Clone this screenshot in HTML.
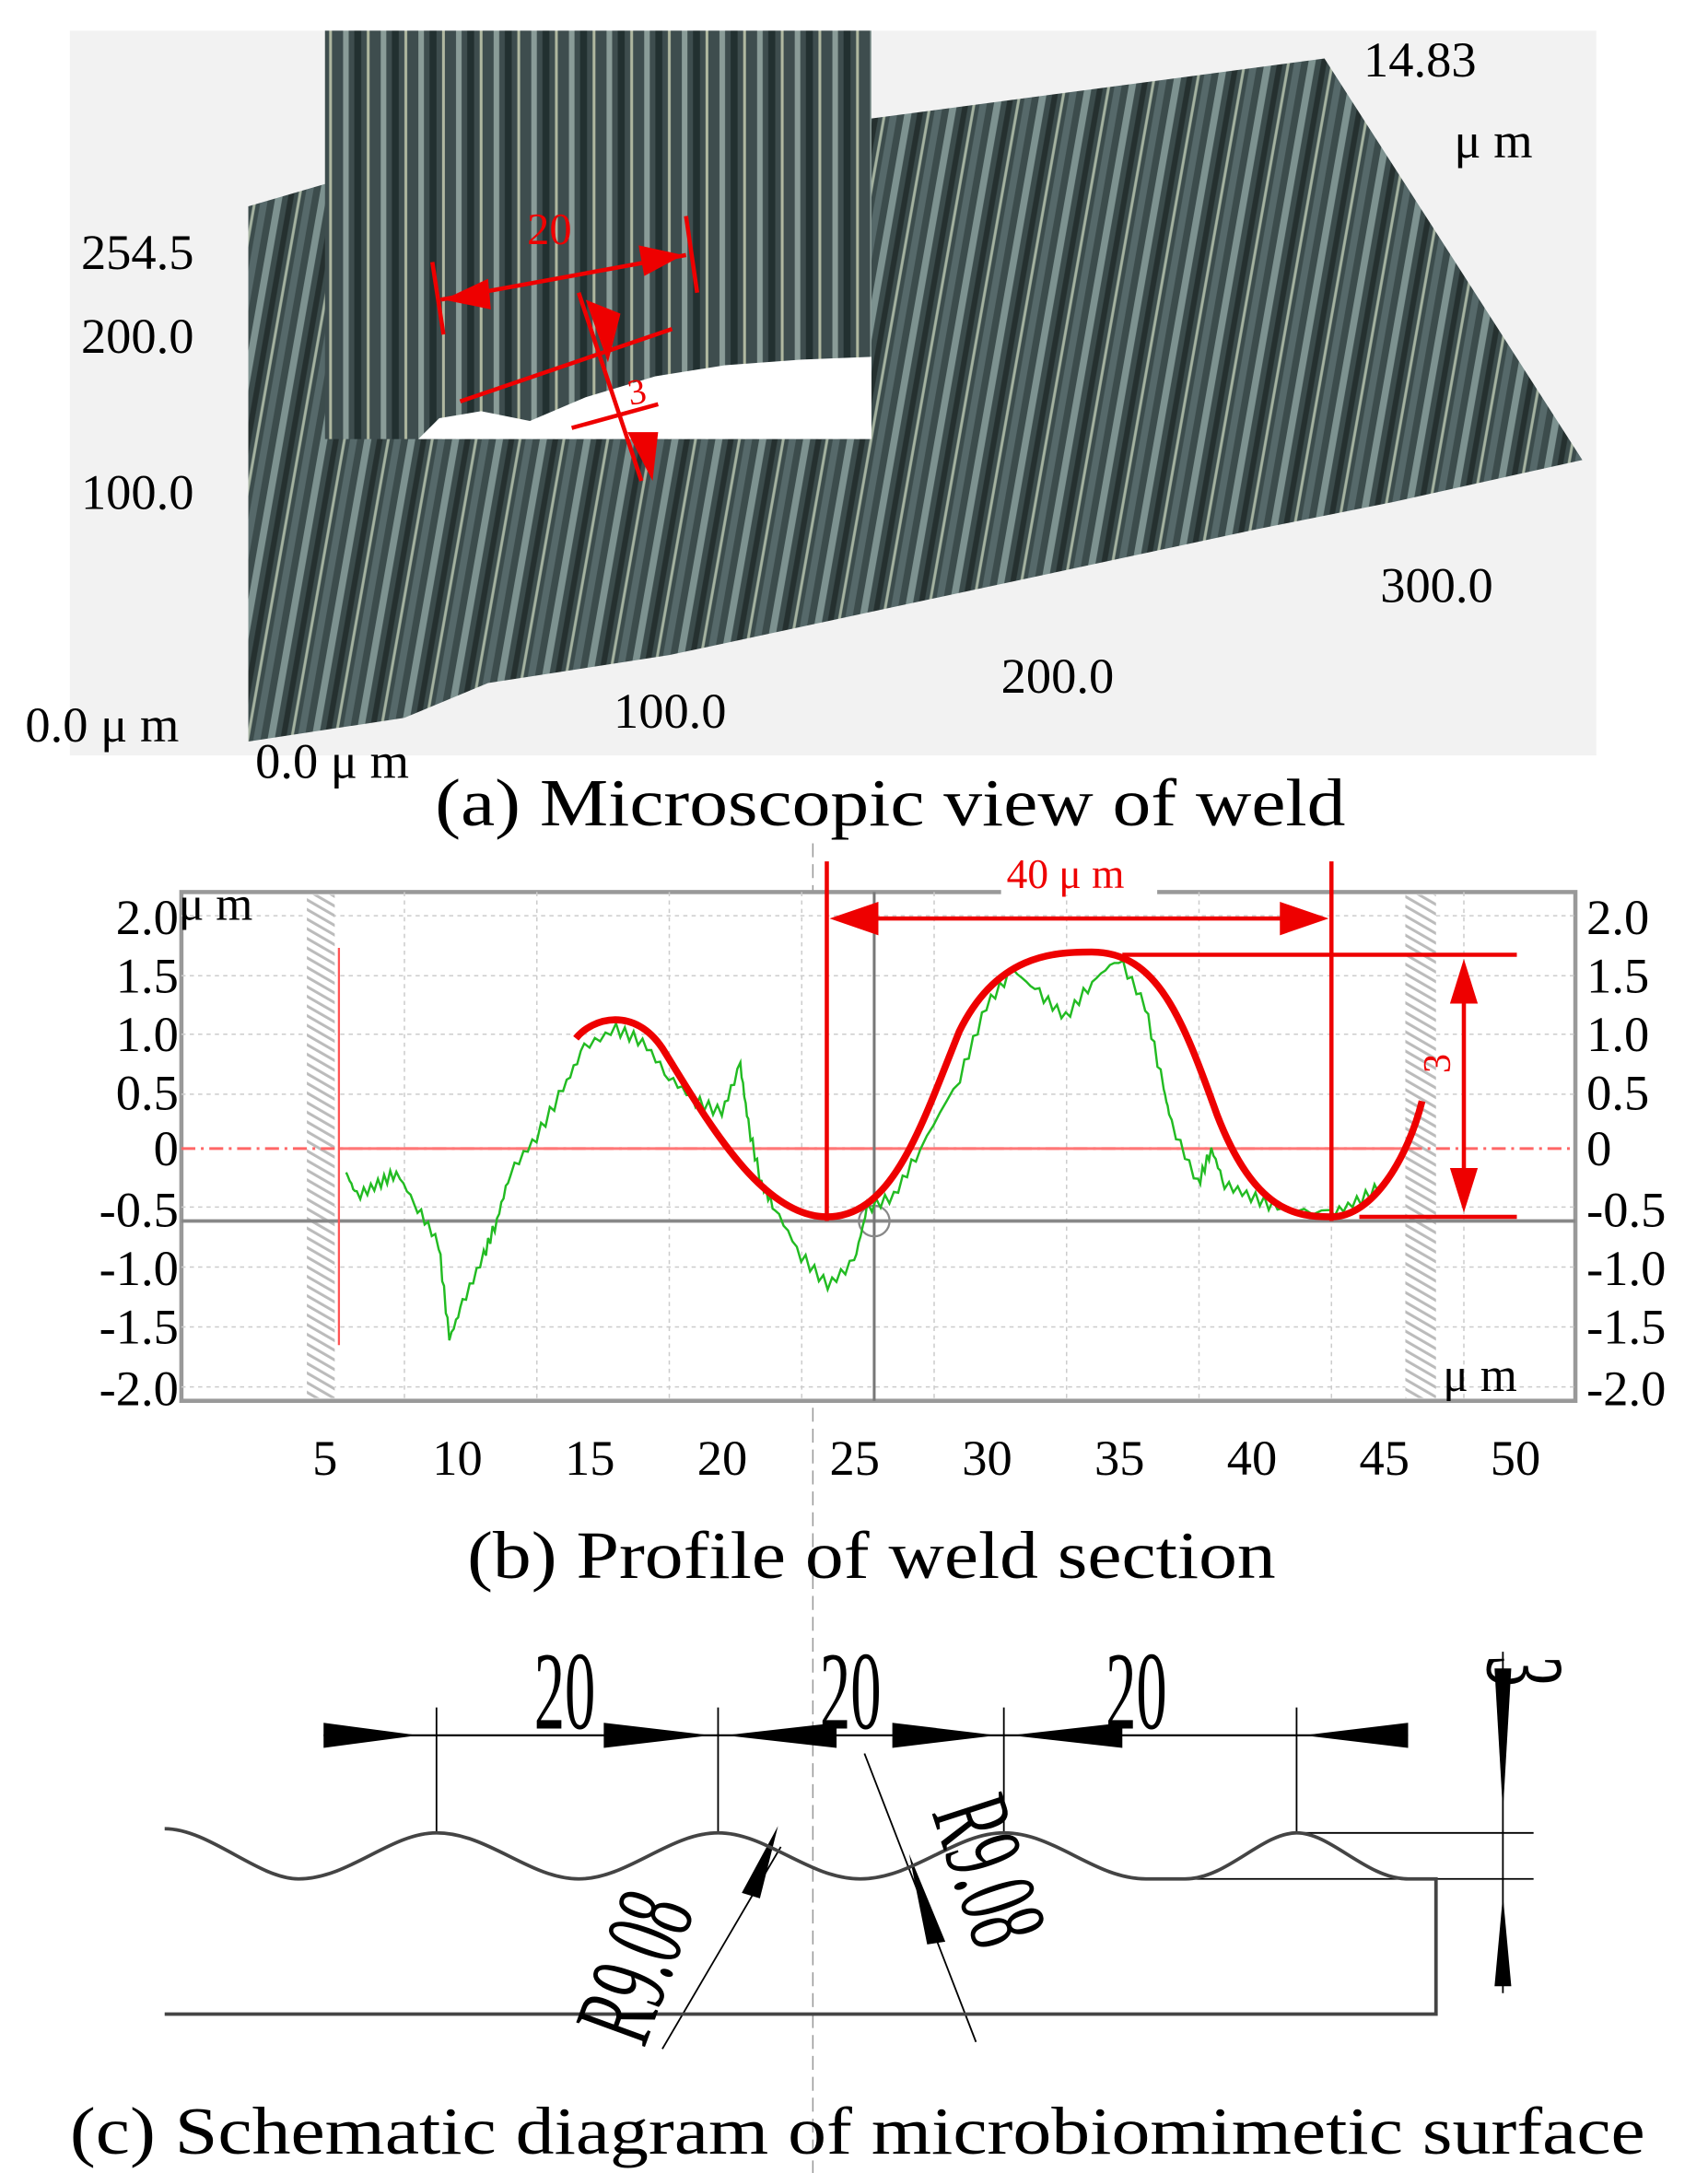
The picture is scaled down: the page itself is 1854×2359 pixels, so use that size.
<!DOCTYPE html>
<html><head><meta charset="utf-8"><style>
html,body{margin:0;padding:0;background:#fff}
svg{display:block}
text{font-family:"Liberation Serif",serif}
</style></head><body>
<svg xmlns="http://www.w3.org/2000/svg" width="1854" height="2359" viewBox="0 0 1225 1559">
<defs>
<pattern id="st" width="31" height="40" patternUnits="userSpaceOnUse" patternTransform="rotate(10)">
<rect width="31" height="40" fill="#3c4c4c"/>
<rect x="2" width="5" height="40" fill="#7d9290"/>
<rect x="11" width="4" height="40" fill="#25302f"/>
<rect x="18" width="2" height="40" fill="#a4b2a0"/>
<rect x="23" width="5" height="40" fill="#56696a"/>
</pattern>
<pattern id="st2" width="27" height="40" patternUnits="userSpaceOnUse">
<rect width="27" height="40" fill="#3e4d4e"/>
<rect x="3" width="4" height="40" fill="#8a9c98"/>
<rect x="11" width="5" height="40" fill="#223030"/>
<rect x="20" width="2" height="40" fill="#b0b8a0"/>
</pattern>
<pattern id="hatch" width="6" height="6" patternUnits="userSpaceOnUse" patternTransform="rotate(-60)">
<rect width="6" height="6" fill="#fff"/><rect width="2" height="6" fill="#bbb"/>
</pattern>
</defs>

<!-- (a) -->
<rect x="50" y="22" width="1095" height="520" fill="#f2f2f2"/>
<polygon points="178,148 233,132 625,85 950,42 1135,330 1000,360 900,380 760,410 620,440 480,470 350,490 290,515 178,532" fill="url(#st)"/>
<rect x="233" y="22" width="392" height="293" fill="url(#st2)"/>
<path d="M300,315 L315,300 L345,295 L380,302 L420,285 L470,270 L520,262 L575,258 L625,256 L625,315 Z" fill="#fff"/>
<g stroke="#e00" stroke-width="3" fill="none">
<line x1="316" y1="215" x2="492" y2="183"/>
<line x1="310" y1="188" x2="318" y2="240"/>
<line x1="492" y1="155" x2="500" y2="210"/>
<line x1="330" y1="288" x2="482" y2="236"/>
<line x1="410" y1="307" x2="472" y2="290"/>
<line x1="415" y1="210" x2="460" y2="345"/>
</g>
<polygon points="318,215 350,200 352,222" fill="#e00"/>
<polygon points="490,183 458,176 462,198" fill="#e00"/>
<polygon points="420,215 436,260 445,225" fill="#e00"/>
<polygon points="450,310 468,345 472,310" fill="#e00"/>
<text x="378" y="175" font-size="32" fill="#e00">20</text>
<text x="450" y="290" font-size="26" fill="#e00" transform="rotate(-10 455 280)">3</text>
<g font-size="36">
<text x="978" y="55">14.83</text>
<text x="1043" y="113">μ m</text>
<text x="58" y="193">254.5</text>
<text x="58" y="253">200.0</text>
<text x="58" y="365">100.0</text>
<text x="18" y="532">0.0 μ m</text>
<text x="183" y="558">0.0 μ m</text>
<text x="440" y="522">100.0</text>
<text x="718" y="497">200.0</text>
<text x="990" y="432">300.0</text>
</g>
<text x="312" y="592" font-size="48" textLength="653" lengthAdjust="spacingAndGlyphs">(a) Microscopic view of weld</text>

<!-- dashed vertical -->
<line x1="583" y1="605" x2="583" y2="1559" stroke="#999" stroke-width="1" stroke-dasharray="10,5"/>

<!-- (b) -->
<rect x="130" y="640" width="1000" height="365" fill="#fff" stroke="#999" stroke-width="3"/>
<g stroke="#ccc" stroke-width="1" stroke-dasharray="3,3">
<line x1="130" y1="657" x2="1130" y2="657"/><line x1="130" y1="700" x2="1130" y2="700"/>
<line x1="130" y1="742" x2="1130" y2="742"/><line x1="130" y1="785" x2="1130" y2="785"/>
<line x1="130" y1="866" x2="1130" y2="866"/><line x1="130" y1="909" x2="1130" y2="909"/>
<line x1="130" y1="952" x2="1130" y2="952"/><line x1="130" y1="995" x2="1130" y2="995"/>
<line x1="290" y1="640" x2="290" y2="1005"/><line x1="385" y1="640" x2="385" y2="1005"/>
<line x1="480" y1="640" x2="480" y2="1005"/><line x1="575" y1="640" x2="575" y2="1005"/>
<line x1="670" y1="640" x2="670" y2="1005"/><line x1="765" y1="640" x2="765" y2="1005"/>
<line x1="860" y1="640" x2="860" y2="1005"/><line x1="955" y1="640" x2="955" y2="1005"/>
<line x1="1050" y1="640" x2="1050" y2="1005"/>
</g>
<rect x="220" y="642" width="20" height="361" fill="url(#hatch)"/>
<rect x="1008" y="642" width="22" height="361" fill="url(#hatch)"/>
<line x1="130" y1="824" x2="1130" y2="824" stroke="#f66" stroke-width="2" stroke-dasharray="10,4,2,4"/>
<line x1="243" y1="824" x2="1010" y2="824" stroke="#f77" stroke-width="2"/>
<line x1="130" y1="876" x2="1130" y2="876" stroke="#888" stroke-width="2.5"/>
<line x1="627" y1="640" x2="627" y2="1005" stroke="#777" stroke-width="2"/>
<circle cx="627" cy="876" r="11" fill="none" stroke="#888" stroke-width="1.5"/>
<line x1="243" y1="680" x2="243" y2="965" stroke="#f55" stroke-width="1.5"/>
<polyline id="g" fill="none" stroke="#2b2" stroke-width="1.6" points=""/>
<path d="M413,745 C425,730 455,722 475,752 C505,800 545,873 593,873 C640,873 660,810 688,740 C715,685 755,683 783,683 C830,683 848,730 873,800 C900,870 930,873 955,873 C985,873 1010,830 1020,790" fill="none" stroke="#e00" stroke-width="5"/>
<g stroke="#e00" stroke-width="3">
<line x1="593" y1="618" x2="593" y2="876"/><line x1="955" y1="618" x2="955" y2="876"/>
<line x1="620" y1="659" x2="925" y2="659"/>
<line x1="805" y1="685" x2="1088" y2="685"/><line x1="975" y1="873" x2="1088" y2="873"/>
<line x1="1050" y1="715" x2="1050" y2="845"/>
</g>
<polygon points="595,659 630,647 630,671" fill="#e00"/>
<polygon points="953,659 918,647 918,671" fill="#e00"/>
<polygon points="1050,688 1040,720 1060,720" fill="#e00"/>
<polygon points="1050,870 1040,838 1060,838" fill="#e00"/>
<rect x="718" y="608" width="112" height="34" fill="#fff"/>
<text x="722" y="637" font-size="30" fill="#e00" font-family="Liberation Sans">40 μ m</text>
<text x="1030" y="780" font-size="28" fill="#e00" transform="rotate(-90 1030 770)" font-family="Liberation Sans">3</text>
<text x="128" y="660" font-size="34">μ m</text>
<text x="1035" y="998" font-size="34">μ m</text>
<g font-size="36" text-anchor="end">
<text x="128" y="670">2.0</text><text x="128" y="712">1.5</text><text x="128" y="754">1.0</text>
<text x="128" y="796">0.5</text><text x="128" y="836">0</text><text x="128" y="880">-0.5</text>
<text x="128" y="922">-1.0</text><text x="128" y="964">-1.5</text><text x="128" y="1008">-2.0</text>
</g>
<g font-size="36">
<text x="1138" y="670">2.0</text><text x="1138" y="712">1.5</text><text x="1138" y="754">1.0</text>
<text x="1138" y="796">0.5</text><text x="1138" y="836">0</text><text x="1138" y="880">-0.5</text>
<text x="1138" y="922">-1.0</text><text x="1138" y="964">-1.5</text><text x="1138" y="1008">-2.0</text>
</g>
<g font-size="36" text-anchor="middle">
<text x="233" y="1058">5</text><text x="328" y="1058">10</text><text x="423" y="1058">15</text>
<text x="518" y="1058">20</text><text x="613" y="1058">25</text><text x="708" y="1058">30</text>
<text x="803" y="1058">35</text><text x="898" y="1058">40</text><text x="993" y="1058">45</text>
<text x="1087" y="1058">50</text>
</g>
<text x="335" y="1132" font-size="48" textLength="580" lengthAdjust="spacingAndGlyphs">(b) Profile of weld section</text>

<!-- (c) -->
<line x1="232" y1="1245" x2="1010" y2="1245" stroke="#000" stroke-width="1.5"/>
<g fill="#000">
<polygon points="232,1236 232,1254 300,1245"/>
<polygon points="433,1236 433,1254 510,1245"/>
<polygon points="600,1236 600,1254 520,1245"/>
<polygon points="640,1236 640,1254 715,1245"/>
<polygon points="805,1236 805,1254 725,1245"/>
<polygon points="1010,1236 1010,1254 935,1245"/>
<polygon points="1072,1197 1084,1197 1078,1300"/>
<polygon points="1072,1425 1084,1425 1078,1360"/>
<polygon points="558,1310 545,1362 532,1358"/>
<polygon points="652,1330 665,1395 678,1393"/>
</g>
<g stroke="#000" stroke-width="1.2">
<line x1="313" y1="1225" x2="313" y2="1315"/><line x1="515" y1="1225" x2="515" y2="1315"/>
<line x1="720" y1="1225" x2="720" y2="1315"/><line x1="930" y1="1225" x2="930" y2="1315"/>
<line x1="1078" y1="1185" x2="1078" y2="1430"/>
<line x1="930" y1="1315" x2="1100" y2="1315"/><line x1="850" y1="1348" x2="1100" y2="1348"/>
<line x1="620" y1="1258" x2="700" y2="1465"/>
<line x1="560" y1="1325" x2="475" y2="1470"/>
</g>
<path d="M118,1312 C150,1312 185,1348 214,1348 C250,1348 280,1315 313,1315 C350,1315 380,1348 415,1348 C450,1348 480,1315 515,1315 C550,1315 580,1348 617,1348 C655,1348 685,1315 720,1315 C757,1315 785,1348 822,1348 L850,1348 C880,1348 905,1315 930,1315 C955,1315 980,1348 1010,1348 L1030,1348 L1030,1445 L118,1445" fill="none" stroke="#444" stroke-width="2.5"/>
<g font-size="80" font-family="Liberation Sans">
<text x="0" y="0" transform="translate(383,1240) scale(0.55,1)">20</text>
<text x="0" y="0" transform="translate(588,1240) scale(0.55,1)">20</text>
<text x="0" y="0" transform="translate(793,1240) scale(0.55,1)">20</text>
<text x="0" y="0" transform="translate(1067,1188) rotate(90) scale(0.55,1)">3</text>
<text x="0" y="0" transform="translate(462,1470) rotate(-70) scale(0.55,1)">R9.08</text>
<text x="0" y="0" transform="translate(668,1300) rotate(72) scale(0.55,1)">R9.08</text>
</g>
<text x="50" y="1545" font-size="48" textLength="1130" lengthAdjust="spacingAndGlyphs">(c) Schematic diagram of microbiomimetic surface</text>
</svg>
<script>
var d=[[5.8,-0.2],[6.2,-0.4],[7,-0.3],[7.7,-0.2],[8.5,-0.5],[9.3,-0.8],[9.7,-1.6],[10.2,-1.3],[11,-0.9],[11.5,-0.6],[12,-0.2],[13,0.1],[14,0.5],[14.8,0.85],[16,1.0],[17,0.9],[18,0.6],[19,0.4],[20,0.3],[20.7,0.7],[21,0.2],[21.5,-0.3],[22,-0.5],[23,-0.9],[24,-1.15],[25,-0.95],[25.5,-0.5],[26.5,-0.4],[27.5,0],[29,0.6],[30,1.2],[31,1.5],[32,1.3],[33,1.1],[34,1.4],[35,1.6],[36,1.2],[36.7,0.5],[37,0.2],[38,-0.3],[38.5,0],[39,-0.3],[40,-0.4],[41,-0.5],[43,-0.55],[44,-0.45],[45,-0.3]];
var p=[];for(var i=0;i<d.length-1;i++){for(var k=0;k<6;k++){var t=k/6;var x=d[i][0]+(d[i+1][0]-d[i][0])*t;var y=d[i][1]+(d[i+1][1]-d[i][1])*t+0.05*Math.sin(i*7.3+k*3.1);p.push((233+(x-5)*18.98).toFixed(1)+","+(824-y*85.5).toFixed(1));}}
document.getElementById("g").setAttribute("points",p.join(" "));
</script>
</body></html>
